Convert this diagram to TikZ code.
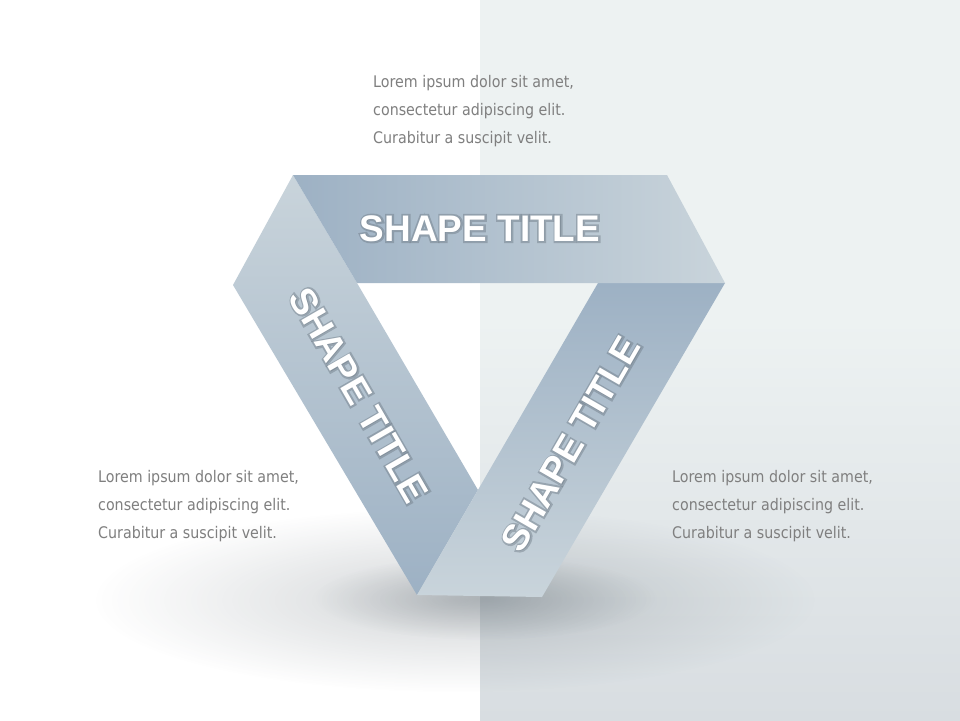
\documentclass[tikz,border=0pt]{standalone}
\usepackage{fontspec}
\usetikzlibrary{fadings}
\newfontfamily\titlefont{Liberation Sans Bold}
\newfontfamily\glowfontA[FakeBold=10]{Liberation Sans Bold}
\newfontfamily\loremfont[FakeStretch=0.89]{DejaVu Sans}
\definecolor{bdark}{HTML}{9DB1C4}
\definecolor{blight}{HTML}{C9D4DB}
\definecolor{txt}{HTML}{7F7F7F}
\definecolor{bgtop}{HTML}{EDF2F2}
\definecolor{bgbot}{HTML}{D8DDE1}
\definecolor{shadowc}{HTML}{5A656D}
\definecolor{glowc}{HTML}{6E7A85}
\tikzfading[name=shfade, inner color=transparent!0, outer color=transparent!100]
\begin{document}
\begin{tikzpicture}[x=1pt,y=-1pt,
  ttl/.style={font=\titlefont\fontsize{37}{37}\selectfont, inner sep=0pt, text=white},
  glow/.style={font=\glowfontA\fontsize{37}{37}\selectfont, inner sep=0pt, text=glowc, opacity=0.45},
  lor/.style={font=\loremfont\fontsize{16}{16}\selectfont, text=txt, anchor=base west, inner sep=0pt},
  shadowblob/.style={fill=shadowc, path fading=shfade}]
\useasboundingbox (0,0) rectangle (960,720);
\clip (0,0) rectangle (960,720);
% background
\fill[white] (0,0) rectangle (960,720);
\fill[bgtop] (480,0) rectangle (960,320);
\shade[top color=bgtop, bottom color=bgbot] (480,319.5) rectangle (960,720);
% shadow
\fill[shadowblob, opacity=0.27] (455,600) ellipse (360 and 92);
\fill[shadowblob, opacity=0.32] (485,598) ellipse (170 and 42);
% geometry
\coordinate (A) at (293,175);
\coordinate (B) at (667,175);
\coordinate (C) at (725,283);
\coordinate (D) at (542,597);
\coordinate (E) at (417,595);
\coordinate (F) at (233,285);
\coordinate (G) at (357,283);
\coordinate (H) at (598,283);
\coordinate (I) at (478,490);
% bands
\shade[top color=blight, bottom color=bdark] (A) -- (F) -- (E) -- (I) -- (G) -- cycle;
\shade[top color=bdark, bottom color=blight] (H) -- (C) -- (D) -- (E) -- cycle;
\shade[left color=bdark, right color=blight] (A) -- (B) -- (C) -- (G) -- cycle;
% titles with soft glow
\node[glow] (gtop) at (480,228.5) {SHAPE TITLE};
\node[glow, rotate=-60] (gleft) at (359,395) {SHAPE TITLE};
\node[glow, rotate=60] (gright) at (571,444) {SHAPE TITLE};
\node[ttl] (ttop) at (480,228.5) {SHAPE TITLE};
\node[ttl, rotate=-60] (tleft) at (359,395) {SHAPE TITLE};
\node[ttl, rotate=60] (tright) at (571,444) {SHAPE TITLE};
% texts
\node[lor] (top1) at (373,87) {Lorem ipsum dolor sit amet,};
\node[lor] (top2) at (373,115.5) {consectetur adipiscing elit.};
\node[lor] (top3) at (373,143.5) {Curabitur a suscipit velit.};
\node[lor] (lft1) at (98,482.5) {Lorem ipsum dolor sit amet,};
\node[lor] (lft2) at (98,510.5) {consectetur adipiscing elit.};
\node[lor] (lft3) at (98,538.5) {Curabitur a suscipit velit.};
\node[lor] (rgt1) at (672,482.5) {Lorem ipsum dolor sit amet,};
\node[lor] (rgt2) at (672,510.5) {consectetur adipiscing elit.};
\node[lor] (rgt3) at (672,538.5) {Curabitur a suscipit velit.};
\end{tikzpicture}
\end{document}
